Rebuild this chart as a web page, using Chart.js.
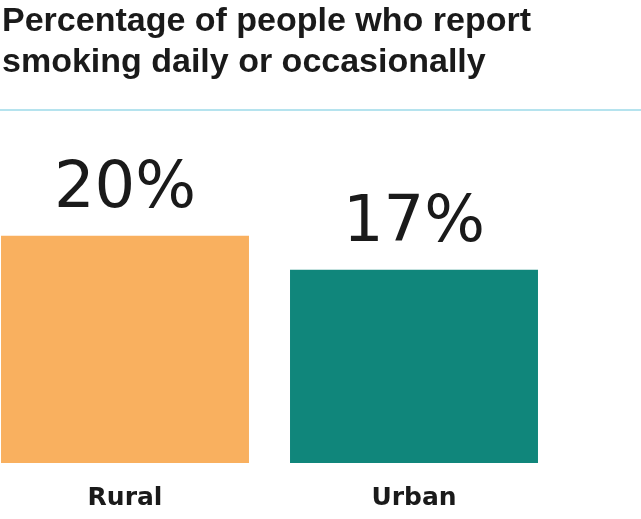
<!DOCTYPE html>
<html>
<head>
<meta charset="utf-8">
<script src="https://cdn.jsdelivr.net/npm/chart.js@4"></script>
<style>
  html, body { margin: 0; background: #fff; overflow: hidden; }
  #wrap { width: 641px; height: 519px; position: relative; }
  #titulo {
    position: absolute; left: 2px; top: -1px;
    font: bold 34px "Liberation Sans", sans-serif;
    line-height: 41px; color: #1a1a1a; white-space: nowrap;
  }
  #linha {
    position: absolute; left: 0; top: 109px; width: 641px; height: 2px;
    background: #b5e3ee;
  }
  #container-barras { position: absolute; left: 0; top: 0; width: 641px; height: 519px; }
</style>
</head>
<body>
<div id="wrap">
  <div id="container-barras"><canvas id="grafico"></canvas></div>
  <div id="titulo"></div>
  <div id="linha"></div>
</div>
<script>
const categories = ['Rural', 'Urban'];
const values = [20, 17];
const barColors = ['#f9b05f', '#10867b'];
const titleLines = ['Percentage of people who report', 'smoking daily or occasionally'];

let titulo = document.getElementById('titulo');
titleLines.forEach(function(t, i) {
    if (i > 0) titulo.appendChild(document.createElement('br'));
    titulo.appendChild(document.createTextNode(t));
});

// big value labels above each bar
const valueLabels = {
    id: 'valueLabels',
    afterDatasetsDraw(chart) {
        const ctx = chart.ctx;
        const meta = chart.getDatasetMeta(0);
        ctx.save();
        ctx.font = '400 64px "DejaVu Sans"';
        ctx.fillStyle = '#1a1a1a';
        ctx.textAlign = 'center';
        ctx.textBaseline = 'alphabetic';
        meta.data.forEach(function(bar, i) {
            ctx.fillText(values[i] + '%', bar.x, bar.y - 29);
        });
        ctx.restore();
    }
};

const ctx = document.getElementById('grafico').getContext('2d');
new Chart(ctx, {
    type: 'bar',
    data: {
        labels: categories,
        datasets: [{
            data: values,
            backgroundColor: barColors,
            borderWidth: 0,
            categoryPercentage: 1,
            barPercentage: 0.858,
            clip: false
        }]
    },
    plugins: [valueLabels],
    options: {
        responsive: true,
        maintainAspectRatio: false,
        animation: false,
        layout: {
            padding: { left: 125, right: 227, top: 122, bottom: 6 }
        },
        plugins: {
            legend: false,
            tooltip: false,
            title: false
        },
        scales: {
            x: {
                offset: false,
                grid: { display: false, drawTicks: true, tickLength: 20 },
                border: { display: false },
                ticks: {
                    color: '#1a1a1a',
                    padding: 0,
                    font: { family: '"DejaVu Sans"', size: 25, weight: 'bold' }
                }
            },
            y: {
                display: false,
                min: 0,
                max: 30
            }
        }
    }
});
</script>
</body>
</html>
